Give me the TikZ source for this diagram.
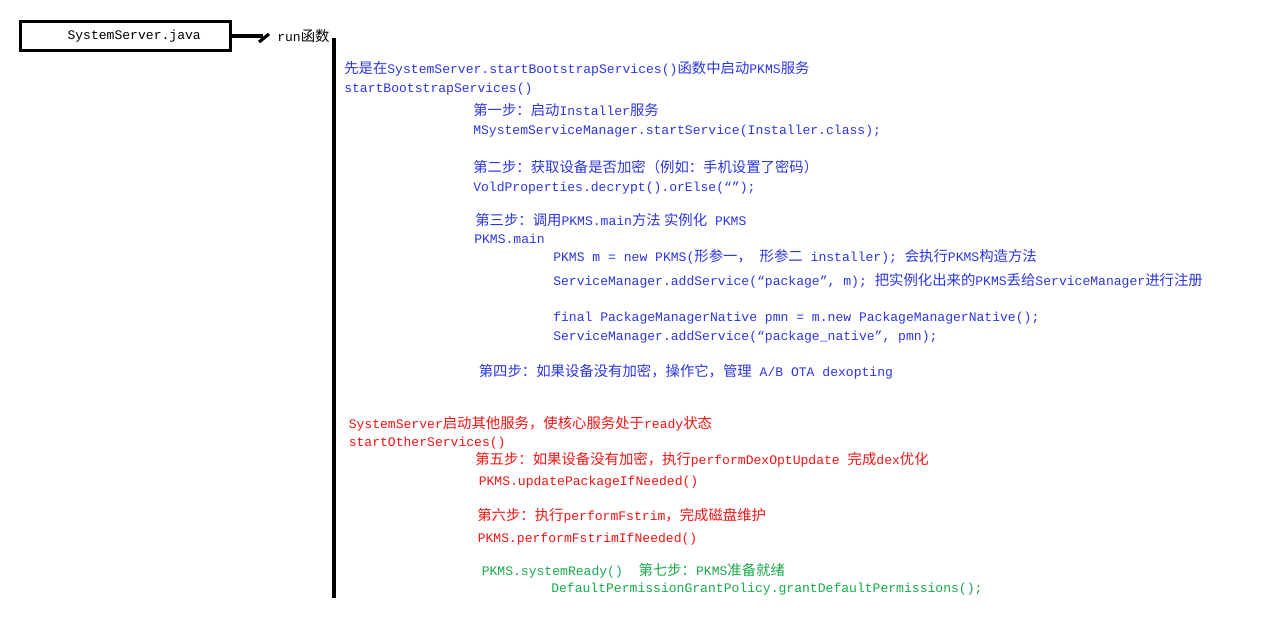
\documentclass[tikz,border=0pt]{standalone}
\usepackage{fontspec}
\setmainfont{Liberation Mono}
\newfontfamily\cjkfont[Scale=1.1]{Noto Sans CJK SC}
\newcommand{\zh}[1]{{\cjkfont #1}}
\definecolor{stepblue}{RGB}{45,55,225}
\definecolor{stepred}{RGB}{245,20,20}
\definecolor{stepgreen}{RGB}{25,170,75}

\begin{document}
\begin{tikzpicture}[x=0.75pt, y=-0.75pt,
    txt/.style={anchor=west, inner sep=0pt, text height=8pt, text depth=2pt, font=\fontsize{9.8pt}{12pt}\selectfont},
    bluetxt/.style={txt, text=stepblue},
    redtxt/.style={txt, text=stepred},
    greentxt/.style={txt, text=stepgreen},
    filebox/.style={rectangle, draw, line width=2.6pt, minimum width=157.5pt, minimum height=21.4pt, inner sep=0pt, font=\fontsize{9.8pt}{12pt}\selectfont},
    heavy/.style={line width=2.4pt}
]
    \useasboundingbox[fill=white] (0,0) rectangle (1288,628);

    % File box and run
    \node[filebox] (sysbox) at (125.5,36) {\hspace*{13pt}SystemServer.java};
    \node[txt] (run) at (277,37) {run\zh{函数}};
    \coordinate (runtip) at (263,36);
    \draw[heavy] (sysbox.east) -- (runtip);
    \draw[heavy] ([shift={(-4,6)}]runtip) -- ([shift={(6,-2)}]runtip);

    % Rail
    \coordinate (railtop) at (334,38);
    \coordinate (railbot) at (334,598);
    \draw[line width=2.7pt] (railtop) -- (railbot);

    % startBootstrapServices
    \node[bluetxt] (boot) at (344,69) {\zh{先是在}SystemServer.startBootstrapServices()\zh{函数中启动}PKMS\zh{服务}};
    \node[bluetxt] (bootcall) at (344,88) {startBootstrapServices()};
    \node[bluetxt] (stepone) at (473,111.5) {\zh{第一步：启动}Installer\zh{服务}};
    \node[bluetxt] (installer) at (473,130) {MSystemServiceManager.startService(Installer.class);};
    \node[bluetxt] (steptwo) at (473,168) {\zh{第二步：获取设备是否加密（例如：手机设置了密码）}};
    \node[bluetxt] (decrypt) at (473,187) {VoldProperties.decrypt().orElse(“”);};
    \node[bluetxt] (stepthree) at (475,221) {\zh{第三步：调用}PKMS.main\zh{方法 实例化} PKMS};
    \node[bluetxt] (pkmsmain) at (474,239) {PKMS.main};
    \node[bluetxt] (newpkms) at (553,257) {PKMS m = new PKMS(\zh{形参一，} \zh{形参二} installer); \zh{会执行}PKMS\zh{构造方法}};
    \node[bluetxt] (addpkg) at (553,281) {ServiceManager.addService(“package”, m); \zh{把实例化出来的}PKMS\zh{丢给}ServiceManager\zh{进行注册}};
    \node[bluetxt] (native) at (553,317) {final PackageManagerNative pmn = m.new PackageManagerNative();};
    \node[bluetxt] (addnative) at (553,336) {ServiceManager.addService(“package\_native”, pmn);};
    \node[bluetxt] (stepfour) at (478.5,372) {\zh{第四步：如果设备没有加密，操作它，管理} A/B OTA dexopting};

    % startOtherServices
    \node[redtxt] (other) at (348.5,424) {SystemServer\zh{启动其他服务，使核心服务处于}ready\zh{状态}};
    \node[redtxt] (othercall) at (348.5,442) {startOtherServices()};
    \node[redtxt] (stepfive) at (475,460) {\zh{第五步：如果设备没有加密，执行}performDexOptUpdate \zh{完成}dex\zh{优化}};
    \node[redtxt] (update) at (478.5,481) {PKMS.updatePackageIfNeeded()};
    \node[redtxt] (stepsix) at (477,516.5) {\zh{第六步：执行}performFstrim\zh{，完成磁盘维护}};
    \node[redtxt] (fstrim) at (477.5,538) {PKMS.performFstrimIfNeeded()};

    % systemReady
    \node[greentxt] (ready) at (481.5,571) {PKMS.systemReady()\ \ \zh{第七步：}PKMS\zh{准备就绪}};
    \node[greentxt] (grant) at (551,588.5) {DefaultPermissionGrantPolicy.grantDefaultPermissions();};
\end{tikzpicture}
\end{document}
